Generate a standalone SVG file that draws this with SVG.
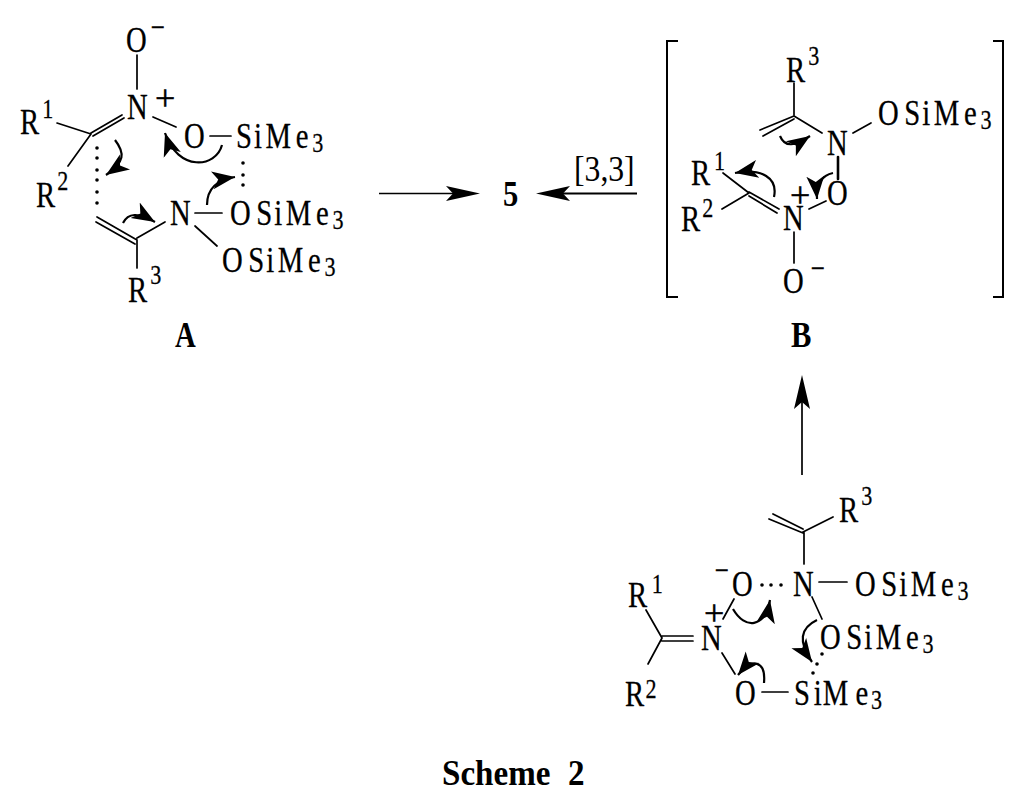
<svg xmlns="http://www.w3.org/2000/svg" width="1023" height="805" viewBox="0 0 1023 805">
<style>
text{font-family:"Liberation Serif","DejaVu Serif",serif;font-size:35px;fill:#000;stroke:#000;stroke-width:.25}
.s{font-size:27px}
.m{font-size:30px;stroke-width:.6}
.p{font-size:36px;stroke-width:.5}
.b{font-weight:bold;font-size:36px;stroke-width:0}
.l{stroke:#000;stroke-width:1.7;fill:none;stroke-linecap:round}
.c{stroke:#000;stroke-width:2.2;fill:none;marker-end:url(#ch)}
.d{fill:#000}
.a{stroke:#000;stroke-width:1.7;fill:none}
.h{fill:#000}
</style>
<defs>
<marker id="ch" markerUnits="userSpaceOnUse" markerWidth="26" markerHeight="24" refX="23" refY="12" orient="auto"><path d="M23,12L0,3L6,12L0,21Z" fill="#000"/></marker>
</defs>
<rect width="1023" height="805" fill="#fff"/>
<g id="connectors">
<path class="a" d="M379,193.500H470"/><path class="h" d="M480,193.500L446,186L453,193.500L446,201Z"/>
<path class="a" style="stroke-width:2.200" d="M637,193.500H546"/><path class="h" d="M536,193.500L570,186L563,193.500L570,201Z"/>
<path class="a" d="M802,475V385"/><path class="h" d="M802,375L794,409L802,402L810,409Z"/>
<text transform="translate(574,181) scale(.88,1)" style="font-size:36px;stroke-width:0">[3,3]</text>
</g>
<g id="node-A">
<path class="l" d="M137,55V89M91,133L122,115M93,136L124,118M57,123L91,134M68,166L91,134M153,117L176,127M210,136H231M97,217L137,240M96,222L135,244M137,238L165,222M137,240V268M195,213H222M195,226L217,246"/>
<g class="d"><circle cx="97" cy="148" r="1.800"/><circle cx="97" cy="158" r="1.800"/><circle cx="97" cy="170" r="1.800"/><circle cx="97" cy="180" r="1.800"/><circle cx="97" cy="192" r="1.800"/><circle cx="97" cy="203" r="1.800"/><circle cx="243" cy="163" r="1.800"/><circle cx="243" cy="175" r="1.800"/><circle cx="243" cy="185" r="1.800"/></g>
<path class="c" d="M115,140C125,153 125,162 106,175"/>
<path class="c" d="M222,145C216,168 178,172 165,133"/>
<path class="c" d="M207,205C207,190 215,180 235,177"/>
<path class="c" d="M123,223C128,213 138,212 155,222"/>
<text transform="translate(126,52) scale(.82,1)">O</text><text transform="translate(151,37) scale(.82,1)" class="m">−</text>
<text transform="translate(127,119) scale(.82,1)">N</text><text transform="translate(155,110)" class="p">+</text>
<text transform="translate(20,134) scale(.82,1)">R<tspan class="s" x="27" y="-16">1</tspan></text>
<text transform="translate(36,207) scale(.82,1)">R<tspan class="s" x="26" y="-17">2</tspan></text>
<text transform="translate(184,148) scale(.82,1)">O</text>
<text transform="translate(236,148) scale(.82,1)"><tspan x="0 22 36 73">SiMe</tspan><tspan class="s" x="93" y="4">3</tspan></text>
<text transform="translate(170,225) scale(.82,1)">N</text>
<text transform="translate(230,225) scale(.82,1)"><tspan x="0 32 54 68 105">OSiMe</tspan><tspan class="s" x="125" y="4">3</tspan></text>
<text transform="translate(222,272) scale(.82,1)"><tspan x="0 32 54 68 105">OSiMe</tspan><tspan class="s" x="125" y="4">3</tspan></text>
<text transform="translate(128,302) scale(.82,1)">R<tspan class="s" x="27" y="-18">3</tspan></text>
<text class="b" transform="translate(175,347) scale(.8,1)">A</text>
</g>
<g id="node-5"><text class="b" transform="translate(503,206) scale(.85,1)">5</text></g>
<g id="node-B">
<path d="M678,41H667V297H678M993,41H1003V297H993" fill="none" stroke="#000" stroke-width="2"/>
<path class="l" d="M794,83V115M794,116L822,133M794,116L760,130M794,119L763,136M853,133L871,123M723,173L749,193M722,209L749,193M749,192L779,209M749,196L777,213M809,209L826,201M794,232V263"/>
<path class="l" style="stroke-width:2.600" d="M838,157V179"/>
<path class="c" d="M780,136C785,148 795,146 810,136"/>
<path class="c" d="M774,197C778,178 762,168 735,173"/>
<path class="c" d="M833,173C822,175 816,185 817,199"/>
<text transform="translate(786,82) scale(.82,1)">R<tspan class="s" x="27" y="-17">3</tspan></text>
<text transform="translate(878,125) scale(.82,1)"><tspan x="0 32 54 68 105">OSiMe</tspan><tspan class="s" x="125" y="4">3</tspan></text>
<text transform="translate(827,155) scale(.82,1)">N</text>
<text transform="translate(691,185) scale(.82,1)">R<tspan class="s" x="28" y="-15">1</tspan></text>
<text transform="translate(681,231) scale(.82,1)">R<tspan class="s" x="26" y="-14">2</tspan></text>
<text transform="translate(827,205) scale(.82,1)">O</text>
<text transform="translate(783,230) scale(.82,1)">N</text>
<text transform="translate(790,207)" class="p">+</text>
<text transform="translate(783,293) scale(.82,1)">O</text><text transform="translate(811,278) scale(.82,1)" class="m">−</text>
<text class="b" transform="translate(791,347) scale(.85,1)">B</text>
</g>
<g id="node-C">
<path class="l" d="M803,529L773,514M803,533L769,519M803,532L833,517M804,532V564M819,582H847M646,610L662,638M648,664L662,638M662,636H693M662,641H693M723,619L734,599M722,653L735,674M762,692H788M812,597L822,619"/>
<g class="d"><circle cx="762" cy="585" r="1.800"/><circle cx="771" cy="585" r="1.800"/><circle cx="781" cy="585" r="1.800"/><circle cx="822" cy="654" r="1.800"/><circle cx="817" cy="664" r="1.800"/><circle cx="813" cy="673" r="1.800"/></g>
<path class="c" d="M733,609C745,630 765,628 770,600"/>
<path class="c" d="M817,620C800,628 798,642 812,662"/>
<path class="c" d="M764,683C766,660 752,658 738,675"/>
<text transform="translate(839,522) scale(.82,1)">R<tspan class="s" x="27" y="-17">3</tspan></text>
<text transform="translate(793,596) scale(.82,1)">N</text>
<text transform="translate(855,596) scale(.82,1)"><tspan x="0 32 54 68 105">OSiMe</tspan><tspan class="s" x="125" y="4">3</tspan></text>
<text transform="translate(732,596) scale(.82,1)">O</text><text transform="translate(715,580) scale(.82,1)" class="m">−</text>
<text transform="translate(628,607) scale(.82,1)">R<tspan class="s" x="29" y="-14">1</tspan></text>
<text transform="translate(625,706) scale(.82,1)">R<tspan class="s" x="25" y="-8">2</tspan></text>
<text transform="translate(701,650) scale(.82,1)">N</text>
<text transform="translate(704,625)" class="p">+</text>
<text transform="translate(735,705) scale(.82,1)">O</text>
<text transform="translate(794,705) scale(.82,1)"><tspan x="0 24 35 75">SiMe</tspan><tspan class="s" x="94" y="4">3</tspan></text>
<text transform="translate(820,649) scale(.82,1)"><tspan x="0 32 54 68 105">OSiMe</tspan><tspan class="s" x="125" y="4">3</tspan></text>
</g>
<g id="caption"><text class="b" transform="translate(442,785) scale(.92,1)"><tspan>Scheme</tspan><tspan x="137">2</tspan></text></g>
</svg>
